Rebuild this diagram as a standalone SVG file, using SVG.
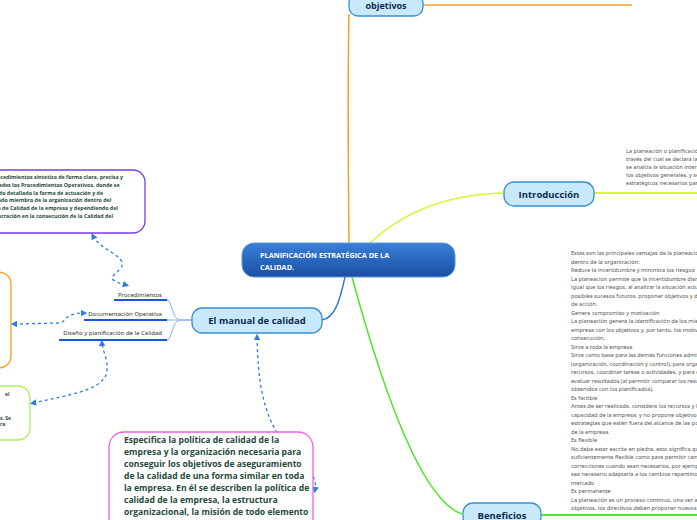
<svg xmlns="http://www.w3.org/2000/svg" width="697" height="520" viewBox="0 0 697 520">
<style>
.n{fill:#c8e9fb;stroke:#3a8fd4;stroke-width:1.3}
.nt{font-family:"Open Sans","DejaVu Sans",sans-serif;font-weight:bold;fill:#102a50;text-anchor:middle}
.sm{font-family:"Noto Sans","DejaVu Sans",sans-serif;font-size:5.6px;fill:#555}
.sub{font-family:"Noto Sans","DejaVu Sans",sans-serif;font-size:6px;fill:#333;text-anchor:end}
.dk{font-family:"Open Sans","DejaVu Sans",sans-serif;font-weight:bold;fill:#1f4a3a}
.d{fill:none;stroke:#2b7be0;stroke-width:1.3;stroke-dasharray:3,3;marker-start:url(#a);marker-end:url(#a)}
</style>
<defs>
<marker id="a" viewBox="0 0 10 10" refX="5" refY="5" markerWidth="5" markerHeight="5" orient="auto-start-reverse"><path d="M0,0L10,5L0,10z" fill="#2b7be0"/></marker>
<linearGradient id="g" x1="0" y1="0" x2="0" y2="1"><stop offset="0" stop-color="#3a7fd6"/><stop offset="1" stop-color="#1a4ea6"/></linearGradient>
<linearGradient id="oy" x1="0" x2="1"><stop offset="0" stop-color="#fff"/><stop offset="0.3" stop-color="#f5a020"/></linearGradient>
</defs>
<g id="connectors" fill="none">
<path d="M349,243 C348,150 348,60 349,14" stroke="#f5a020" stroke-width="1.5"/>
<path d="M423,5 L632,5" stroke="#f5a020" stroke-width="1.5"/>
<path d="M370,243 C400,215 440,195 503,193" stroke="#d9f53a" stroke-width="1.5"/>
<path d="M594,193 L697,193" stroke="#d9f53a" stroke-width="2"/>
<path d="M352,277 C380,380 420,500 462,514" stroke="#4de82a" stroke-width="1.5"/>
<path d="M541,515 L697,515" stroke="#4de82a" stroke-width="2"/>
<path d="M345,277 C340,300 335,318 322,320" stroke="#2a6fe0" stroke-width="1.3"/>
<path d="M192,320 L180,320 C172,320 172,300 167,300 M180,320 C172,320 172,340 167,340 M192,320 L167,320" stroke="#8ab0f0" stroke-width="1"/>
<path d="M114,300 H167 M84,320 H167 M59,340 H167" stroke="#1a55e0" stroke-width="2"/>
<path class="d" d="M93,236 C100,250 125,255 122,266 C118,275 100,278 126,285"/>
<path class="d" d="M14,324 L60,323 C66,322 64,313 84,313"/>
<path class="d" d="M33,403 C70,395 100,390 106,375 C110,362 102,350 102,343"/>
<path class="d" d="M257,337 C258,380 262,420 290,450 C305,465 318,475 315,490"/>
</g>
<g id="central">
<rect x="242" y="243" width="213" height="34" rx="12" fill="url(#g)" stroke="#5d98de"/>
<text x="260" y="258" font-family="Open Sans,DejaVu Sans,sans-serif" font-weight="bold" font-size="7.3" fill="#fff">PLANIFICACIÓN ESTRATÉGICA DE LA</text>
<text x="260" y="270" font-family="Open Sans,DejaVu Sans,sans-serif" font-weight="bold" font-size="7.3" fill="#fff">CALIDAD.</text>
</g>
<g id="objetivos">
<rect x="349" y="-6" width="74" height="22" rx="9" class="n"/>
<text x="386" y="9" class="nt" font-size="9">objetivos</text>
</g>
<g id="introduccion">
<rect x="504" y="182" width="90" height="24" rx="10" class="n"/>
<text x="549" y="198" class="nt" font-size="9.5">Introducción</text>
<text class="sm" x="626"><tspan y="153">La planeación o planificación estratégica es el proceso a</tspan><tspan x="626" y="161">través del cual se declara la visión y la misión de la empresa,</tspan><tspan x="626" y="169">se analiza la situación interna y externa de ésta, se establecen</tspan><tspan x="626" y="177">los objetivos generales, y se formulan las estrategias y planes</tspan><tspan x="626" y="185">estratégicos necesarios para alcanzar dichos objetivos.</tspan></text>
</g>
<g id="beneficios">
<rect x="463" y="503" width="78" height="24" rx="10" class="n"/>
<text x="502" y="519" class="nt" font-size="9.5">Beneficios</text>
<text class="sm" x="571">
<tspan x="571" y="255">Estas son las principales ventajas de la planeación estratégica</tspan>
<tspan x="571" y="263.5">dentro de la organización:</tspan>
<tspan x="571" y="272">Reduce la incertidumbre y minimiza los riesgos</tspan>
<tspan x="571" y="280.5">La planeación permite que la incertidumbre disminuya, al</tspan>
<tspan x="571" y="289">igual que los riesgos, al analizar la situación actual y los</tspan>
<tspan x="571" y="297.5">posibles sucesos futuros, proponer objetivos y diseñar planes</tspan>
<tspan x="571" y="306">de acción.</tspan>
<tspan x="571" y="314.5">Genera compromiso y motivación</tspan>
<tspan x="571" y="323">La planeación genera la identificación de los miembros de la</tspan>
<tspan x="571" y="331.5">empresa con los objetivos y, por tanto, los motiva hacia su</tspan>
<tspan x="571" y="340">consecución.</tspan>
<tspan x="571" y="348.5">Sirve a toda la empresa</tspan>
<tspan x="571" y="357">Sirve como base para las demás funciones administrativas</tspan>
<tspan x="571" y="365.5">(organización, coordinación y control), para organizar los</tspan>
<tspan x="571" y="374">recursos, coordinar tareas o actividades, y para controlar y</tspan>
<tspan x="571" y="382.5">evaluar resultados (al permitir comparar los resultados</tspan>
<tspan x="571" y="391">obtenidos con los planificados).</tspan>
<tspan x="571" y="399.5">Es factible</tspan>
<tspan x="571" y="408">Antes de ser realizada, considera los recursos y la</tspan>
<tspan x="571" y="416.5">capacidad de la empresa, y no propone objetivos o</tspan>
<tspan x="571" y="425">estrategias que estén fuera del alcance de las posibilidades</tspan>
<tspan x="571" y="433.5">de la empresa.</tspan>
<tspan x="571" y="442">Es flexible</tspan>
<tspan x="571" y="450.5">No debe estar escrita en piedra, esto significa que debe ser</tspan>
<tspan x="571" y="459">suficientemente flexible como para permitir cambios y</tspan>
<tspan x="571" y="467.5">correcciones cuando sean necesarios, por ejemplo, cuando</tspan>
<tspan x="571" y="476">sea necesario adaptarla a los cambios repentinos del</tspan>
<tspan x="571" y="484.5">mercado</tspan>
<tspan x="571" y="493">Es permanente</tspan>
<tspan x="571" y="501.5">La planeación es un proceso continuo, una vez alcanzados los</tspan>
<tspan x="571" y="510">objetivos, los directivos deben proponer nuevos objetivos.</tspan>
</text>
</g>
<g id="manual">
<rect x="192" y="308" width="130" height="25" rx="10" class="n"/>
<text x="257" y="324" class="nt" font-size="9.5">El manual de calidad</text>
</g>
<g id="procedimientos"><text x="162" y="297" class="sub">Procedimientos</text></g>
<g id="documentacion"><text x="162" y="316" class="sub">Documentación Operativa</text></g>
<g id="diseno"><text x="162" y="335" class="sub">Diseño y planificación de la Calidad</text></g>
<g id="purple">
<rect x="-20" y="170" width="165" height="63" rx="12" fill="#fff" stroke="#7a3cf0" stroke-width="1.3"/>
<text class="dk" font-size="5.3" x="-45">
<tspan x="-44" y="179">El Manual de Procedimientos sintetiza de forma clara, precisa y</tspan>
<tspan x="-37" y="187">sin ambigüedades los Procedimientos Operativos, donde se</tspan>
<tspan x="-36" y="194.5">refleja de modo detallado la forma de actuación y de</tspan>
<tspan x="-56" y="202">responsabilidad de todo miembro de la organización dentro del</tspan>
<tspan x="-48" y="210">marco del Sistema de Calidad de la empresa y dependiendo del</tspan>
<tspan x="-40" y="218">grado de involucración en la consecución de la Calidad del</tspan>
</text>
</g>
<g id="orange"><rect x="-20" y="272" width="31" height="96" rx="12" fill="#fff" stroke="#f5a020" stroke-width="1.3"/></g>
<g id="green">
<rect x="-20" y="386" width="50" height="54" rx="12" fill="#fff" stroke="#a8f060" stroke-width="1.3"/>
<text class="dk" font-size="5" font-weight="normal"><tspan x="5" y="396">el</tspan><tspan x="0" y="420">s. Se</tspan><tspan x="0" y="426">ra</tspan></text>
</g>
<g id="pink">
<rect x="109" y="432" width="204" height="110" rx="15" fill="#fff" stroke="#f060e8" stroke-width="1.3"/>
<text class="dk" font-size="8.6" x="124">
<tspan x="124" y="443">Especifica la política de calidad de la</tspan>
<tspan x="124" y="455">empresa y la organización necesaria para</tspan>
<tspan x="124" y="467">conseguir los objetivos de aseguramiento</tspan>
<tspan x="124" y="479">de la calidad de una forma similar en toda</tspan>
<tspan x="124" y="491">la empresa. En él se describen la política de</tspan>
<tspan x="124" y="503">calidad de la empresa, la estructura</tspan>
<tspan x="124" y="515">organizacional, la misión de todo elemento</tspan>
<tspan x="124" y="527">involucrado en el logro de la Calidad</tspan>
</text>
</g>
</svg>
